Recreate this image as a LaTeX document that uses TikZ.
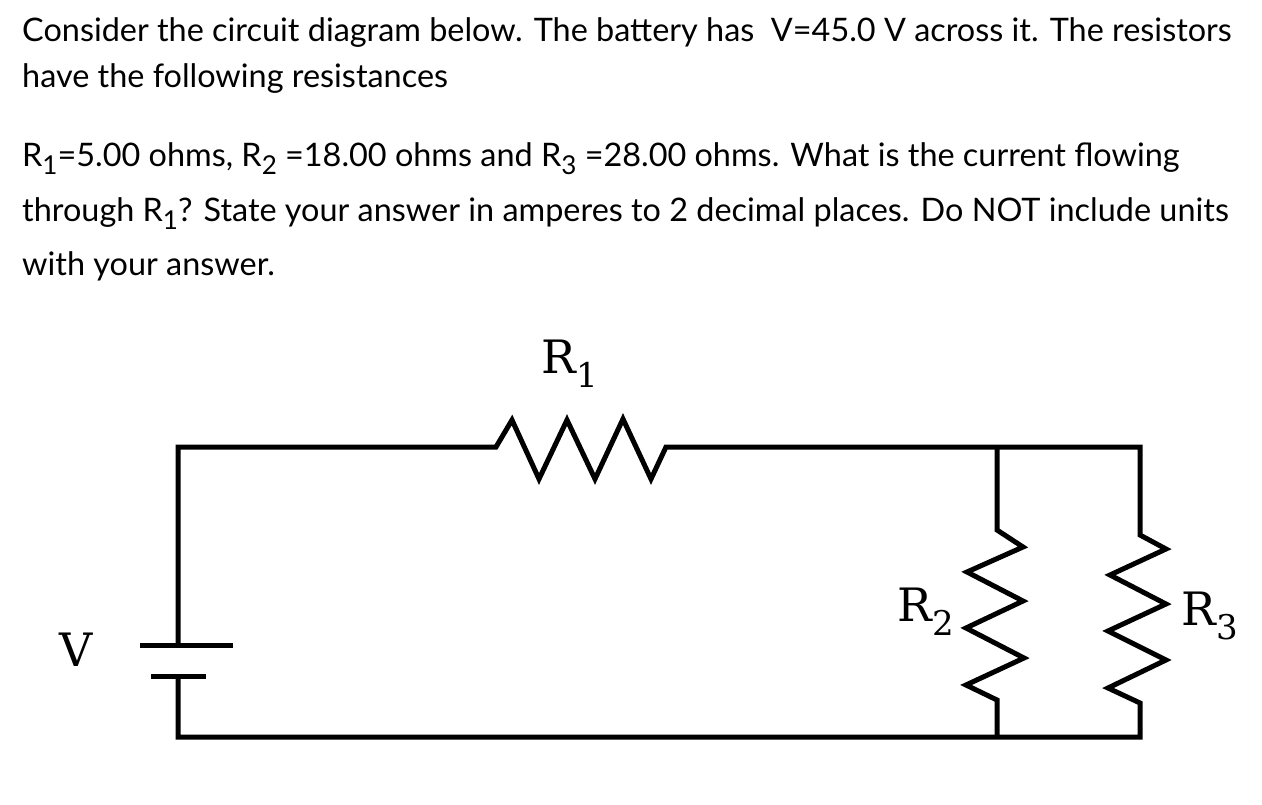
\documentclass[tikz,border=0pt]{standalone}
\usepackage{fontspec}
\setmainfont{Lato}
\newfontfamily\lblfont{DejaVu Serif}
\newcommand{\sbx}[1]{\raisebox{-0.22em}{\fontsize{26}{28}\selectfont #1}}
\newcommand{\lsb}[1]{\raisebox{-0.3em}{\fontsize{34}{36}\selectfont #1}}
\begin{document}
\begin{tikzpicture}[x=1pt,y=-1pt,
  wire/.style={line width=5pt,line join=miter,line cap=butt},
  txt/.style={anchor=base west,inner sep=0pt,font=\fontsize{32.4}{36}\selectfont},
  lbl/.style={inner sep=0pt,font=\lblfont\fontsize{46}{50}\selectfont}]
\useasboundingbox (0,0) rectangle (1262,805);
\node[txt] (t1) at (22,42) {Consider the circuit diagram below. The battery has\ \ V=45.0 V across it. The resistors};
\node[txt] (t2) at (22,88) {have the following resistances};
\node[txt] (t3) at (22,167) {R\sbx{1}=5.00 ohms, R\sbx{2} =18.00 ohms and R\sbx{3} =28.00 ohms. What is the current flowing};
\node[txt] (t4) at (22,222) {through R\sbx{1}? State your answer in amperes to 2 decimal places. Do NOT include units};
\node[txt] (t5) at (22,276) {with your answer.};
\coordinate (tl) at (178,447);
\coordinate (bl) at (178,737);
\coordinate (tm) at (997,447);
\coordinate (tr) at (1140,447);
\coordinate (bm) at (997,737);
\coordinate (br) at (1140,737);
\coordinate (bp) at (178,645);
\coordinate (bn) at (178,676);
\draw[wire] (bp) -- (tl) -- (496,447) -- (512,420) -- (539,479) -- (567,420) -- (595,479) -- (623,419) -- (651,479) -- (666,447) -- (tr) -- (1140,535)
  -- (1166,549) -- (1110,575) -- (1166,604) -- (1108,631) -- (1166,660) -- (1108,688) -- (1140,703) -- (br) -- (bl) -- (bn);
\draw[wire] (tm) -- (997,530) -- (1023,547) -- (967,572) -- (1023,601) -- (966,628) -- (1024,658) -- (966,685) -- (997,700) -- (bm);
\draw[wire] (140,645) -- (233,645);
\draw[wire] (151,676) -- (206,676);
\node[lbl] (r1) at (570,364) {R\lsb{1}};
\node[lbl] (r2) at (926,612) {R\lsb{2}};
\node[lbl] (r3) at (1210,616) {R\lsb{3}};
\node[lbl] (v) at (76,650) {V};
\end{tikzpicture}
\end{document}
